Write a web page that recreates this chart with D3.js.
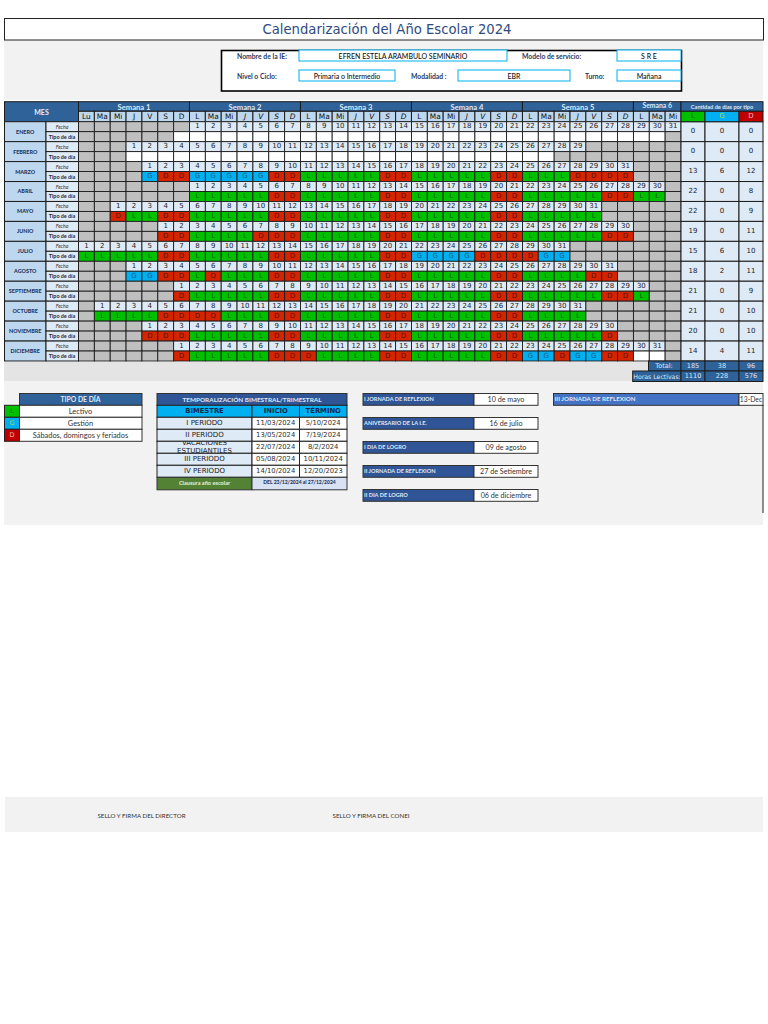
<!DOCTYPE html>
<html>
<head>
<meta charset="utf-8">
<script src="https://d3js.org/d3.v7.min.js"></script>
<style>
  body { margin: 0; background: #fff; }
  svg { display: block; }
  text { font-family: "DejaVu Sans", sans-serif; text-anchor: middle; dominant-baseline: central; }
  .nar { font-family: Lato, "Open Sans", sans-serif; }
</style>
</head>
<body>
<svg id="chart" width="768" height="1024"></svg>
<script>
// datos del calendario
var meses = ["ENERO", "FEBRERO", "MARZO", "ABRIL", "MAYO", "JUNIO", "JULIO", "AGOSTO", "SEPTIEMBRE", "OCTUBRE", "NOVIEMBRE", "DICIEMBRE"];
var semanas = ["Semana 1", "Semana 2", "Semana 3", "Semana 4", "Semana 5", "Semana 6"];
var diasSemana = ["Lu", "Ma", "Mi", "J", "V", "S", "D", "L", "Ma", "Mi", "J", "V", "S", "D", "L", "Ma", "Mi", "J", "V", "S", "D", "L", "Ma", "Mi", "J", "V", "S", "D", "L", "Ma", "Mi", "J", "V", "S", "D", "L", "Ma", "Mi"];
var numerosDia = [1, 2, 3, 4, 5, 6, 7, 8, 9, 10, 11, 12, 13, 14, 15, 16, 17, 18, 19, 20, 21, 22, 23, 24, 25, 26, 27, 28, 29, 30, 31];
var inicioMes = [7, 3, 4, 7, 2, 5, 0, 3, 6, 1, 4, 6];
var diasMes = [31, 29, 31, 30, 31, 30, 31, 31, 30, 31, 30, 31];
// . gris, w blanco, L lectivo, G gestion, D no lectivo
var tipoDia = [
  "......wwwwwwwwwwwwwwwwwwwwwwwwwwwwwww.",
  "...wwwwwwwwwwwwwwwwwwwwwwwwwww........",
  "....GDDGGGGGDDLLLLLDDLLLLLDDLLLDDDD...",
  ".......LLLLLDDLLLLLDDLLLLLDDLLLLLDDLL.",
  "..DLLDDLLLLLDDLLLLLDDLLLLLDDLLLLL.....",
  ".....DDLLLLDDDLLLLLDDLLLLLDDLLLLLDD...",
  "LLLLLDDLLLLLDDLLLLLDDGGGGDDDDGG.......",
  "...GGDDLDLLLDDLLLLLDDLLLLLDDLLLLDD....",
  "......DLLLLLDDLLLLLDDLLLLLDDLLLLLDDL..",
  ".LLLLDDDDLLLDDLLLLLDDLLLLLDDLLLL......",
  "....DDDLLLLLDDLLLLLDDLLLLLDDLLLLLD....",
  "......DLLLLLDDDLLLLDDLLLLLDDGGDGGDDww."
];
var cantidadL = [0, 0, 13, 22, 22, 19, 15, 18, 21, 21, 20, 14];
var cantidadG = [0, 0, 6, 0, 0, 0, 6, 2, 0, 0, 0, 4];
var cantidadD = [0, 0, 12, 8, 9, 11, 10, 11, 9, 10, 10, 11];
var totales = ["185", "38", "96"];
var horasLectivas = ["1110", "228", "576"];

var tiposLeyenda = ["L", "G", "D"];
var nombresLeyenda = ["Lectivo", "Gestión", "Sábados, domingos y feriados"];
var periodos = ["I PERIODO", "II PERIODO", "VACACIONES ESTUDIANTILES", "III PERIODO", "IV PERIODO"];
var inicios = ["11/03/2024", "13/05/2024", "22/07/2024", "05/08/2024", "14/10/2024"];
var terminos = ["5/10/2024", "7/19/2024", "8/2/2024", "10/11/2024", "12/20/2023"];
var eventos = ["I JORNADA DE REFLEXION", "ANIVERSARIO DE LA I.E.", "I  DIA DE LOGRO", "II JORNADA DE REFLEXION", "II DIA DE LOGRO"];
var fechasEventos = ["10 de mayo", "16 de julio", "09 de agosto", "27 de Setiembre", "06 de diciembre"];

var colores = { L: "#00c000", G: "#00b0f0", D: "#d42400", w: "#ffffff", ".": "#bfbfbf" };
var coloresTexto = { L: "#075f07", G: "#1c5f82", D: "#5c1207" };
var azul = "#2f6299", claro = "#deeaf6", medio = "#bdd7ee", borde = "#1c1c1c";

var svg = d3.select("#chart");

function caja(x, y, w, h, fill, stroke, sw) {
  return svg.append("rect").attr("x", x).attr("y", y).attr("width", w).attr("height", h)
    .attr("fill", fill).attr("stroke", stroke || "none").attr("stroke-width", sw || 0);
}
function texto(x, y, s, size, color, extra) {
  var t = svg.append("text").attr("x", x).attr("y", y).text(s)
    .attr("font-size", size).attr("fill", color);
  if (extra) {
    if (extra.cls) t.attr("class", extra.cls);
    if (extra.weight) t.attr("font-weight", extra.weight);
    if (extra.style) t.attr("font-style", extra.style);
    if (extra.anchor) t.style("text-anchor", extra.anchor);
  }
  return t;
}

// paneles de fondo
caja(4, 40, 759, 60, "#f2f2f2");
caja(4, 362, 759, 19, "#e4e4e4");
caja(4, 381, 759, 144, "#f2f2f2");
caja(5, 797, 758, 35, "#f2f2f2");

// titulo
caja(4.5, 18.5, 759, 21.5, "#fff", "#222", 1);
texto(387, 29.5, "Calendarización del Año Escolar 2024", 13.2, "#2f4a80");

// datos de la institucion
caja(221.5, 50.5, 460, 40.5, "#fff", "#000", 1.6);
function campo(x, y, w, s) {
  caja(x, y, w, 11, "#fff", "#00b0f0", 1);
  texto(x + w / 2, y + 5.7, s, 7, "#111", { cls: "nar", weight: 500 });
}
[["Nombre de la IE:", 237, 55.5], ["Nivel o Ciclo:", 237, 75.5], ["Modelo de servicio:", 522, 55.5], ["Modalidad :", 411, 75.5], ["Turno:", 585, 75.5]]
  .forEach(function (d) { texto(d[1], d[2], d[0], 6.8, "#1f3864", { cls: "nar", weight: 700, anchor: "start" }); });
campo(299, 50, 208, "EFREN ESTELA ARAMBULO SEMINARIO");
campo(617, 50, 64, "S R E");
campo(299, 70, 96, "Primaria o Intermedio");
campo(458, 70, 112, "EBR");
campo(617, 70, 64, "Mañana");

// escalas de la grilla
var x = d3.scaleBand().domain(d3.range(38)).range([78.5, 681]);
var y = d3.scaleBand().domain(meses).range([121.7, 361]);
var anchoTipo = { L: 24, G: 34, D: 24 };
var xCant = { L: 681, G: 705, D: 739 };
var w = x.bandwidth(), h = y.bandwidth() / 2;

// encabezados
caja(4.5, 101.7, 74, 20, azul, borde, 1);
texto(41.5, 111.5, "MES", 7, "#e8eef6", { cls: "nar", weight: 700 });
semanas.forEach(function (s, i) {
  var n = i == 5 ? 3 : 7;
  caja(x(i * 7), 101.7, n * w, 9.6, azul, borde, 1);
  texto(x(i * 7) + n * w / 2, i == 5 ? 105.3 : 106.5, s, i == 5 ? 6.8 : 7.6, "#dfe8f3", { cls: "nar", weight: 700 });
});
svg.selectAll(".dsem").data(diasSemana).enter().append("rect")
  .attr("x", function (d, i) { return x(i); }).attr("y", 111.3)
  .attr("width", w).attr("height", 10.4)
  .attr("fill", medio).attr("stroke", borde).attr("stroke-width", 1);
svg.selectAll(".dsemt").data(diasSemana).enter().append("text")
  .attr("x", function (d, i) { return x(i) + w / 2; }).attr("y", 116)
  .attr("font-size", 7.4).attr("fill", "#111")
  .attr("font-style", function (d, i) { return i >= 7 && i % 7 > 2 ? "italic" : "normal"; })
  .text(function (d) { return d; });

// filas de meses
meses.forEach(function (m, i) {
  var y0 = y(m);
  caja(4.5, y0, 41.5, 2 * h, medio, borde, 1);
  texto(25.2, y0 + h, m, 5.4, "#1f3864", { cls: "nar", weight: 900 });
  caja(46, y0, 32.5, h, claro, borde, 1);
  caja(46, y0 + h, 32.5, h, claro, borde, 1);
  texto(62, y0 + h / 2, "Fecha", 5.2, "#333", { cls: "nar", style: "italic" });
  texto(62, y0 + 1.5 * h, "Tipo de día", 5.4, "#1a2a44", { cls: "nar", weight: 700 });

  var fechas = numerosDia.slice(0, diasMes[i]);
  var g = svg.append("g");
  // fila de fecha
  g.selectAll(".gris").data(d3.range(38)).enter().append("rect")
    .attr("x", function (c) { return x(c); }).attr("y", y0)
    .attr("width", w).attr("height", h)
    .attr("fill", function (c) { return c >= inicioMes[i] && c < inicioMes[i] + diasMes[i] ? claro : colores["."]; })
    .attr("stroke", borde).attr("stroke-width", 0.9);
  g.selectAll(".num").data(fechas).enter().append("text")
    .attr("x", function (d) { return x(inicioMes[i] + d - 1) + w / 2; }).attr("y", y0 + h / 2 - 0.4)
    .attr("font-size", 7).attr("fill", "#222").text(function (d) { return d; });
  // fila de tipo
  var tipos = tipoDia[i].split("");
  g.selectAll(".tipo").data(tipos).enter().append("rect")
    .attr("x", function (d, c) { return x(c); }).attr("y", y0 + h)
    .attr("width", w).attr("height", h)
    .attr("fill", function (d) { return colores[d]; })
    .attr("stroke", borde).attr("stroke-width", 0.9);
  g.selectAll(".letra").data(tipos).enter().append("text")
    .attr("x", function (d, c) { return x(c) + w / 2; }).attr("y", y0 + 1.5 * h - 0.4)
    .attr("font-size", 7).attr("fill", function (d) { return coloresTexto[d] || "none"; })
    .text(function (d) { return coloresTexto[d] ? d : ""; });

  // cantidades
  [["L", cantidadL[i]], ["G", cantidadG[i]], ["D", cantidadD[i]]].forEach(function (d) {
    caja(xCant[d[0]], y0, anchoTipo[d[0]], 2 * h, claro, borde, 1);
    texto(xCant[d[0]] + anchoTipo[d[0]] / 2, y0 + h - 0.3, d[1], 7, "#222");
  });
});

// encabezado de cantidades
caja(681, 101.7, 82, 9.6, azul, borde, 1);
texto(722, 106.5, "Cantidad de días por tipo", 5.6, "#dfe8f3", { cls: "nar", weight: 700 });
var colorCab = { L: "#00c000", G: "#00b0f0", D: "#c00000" };
var textoCab = { L: "#075f07", G: "#a5d64a", D: "#f2b8b8" };
tiposLeyenda.forEach(function (t) {
  caja(xCant[t], 111.3, anchoTipo[t], 10.4, colorCab[t], borde, 1);
  texto(xCant[t] + anchoTipo[t] / 2, 116, t, 7, textoCab[t]);
});

// totales
caja(648.5, 361, 32.5, 10, azul, borde, 1);
texto(664, 365.8, "Total:", 6.5, "#dfe8f3");
caja(632.7, 371, 48.3, 10.5, azul, borde, 1);
texto(657, 376, "Horas Lectivas:", 6.2, "#dfe8f3");
tiposLeyenda.forEach(function (t, i) {
  caja(xCant[t], 361, anchoTipo[t], 10, azul, borde, 1);
  texto(xCant[t] + anchoTipo[t] / 2, 365.8, totales[i], 6.5, "#dfe8f3");
  caja(xCant[t], 371, anchoTipo[t], 10.5, azul, borde, 1);
  texto(xCant[t] + anchoTipo[t] / 2, 376, horasLectivas[i], 6.5, "#dfe8f3");
});

// leyenda tipo de dia
caja(19.5, 393.5, 122.5, 11.8, azul, "#333", 1);
texto(80.5, 399, "TIPO DE DÍA", 6.8, "#dfe8f3", { cls: "nar", weight: 700 });
tiposLeyenda.forEach(function (t, i) {
  var yl = 405.3 + i * 12;
  caja(4.5, yl, 15, 12, colorCab[t], "#222", 1);
  texto(12, yl + 5.6, t, 6.5, textoCab[t]);
  caja(19.5, yl, 122.5, 12, "#fff", "#333", 1);
  texto(80.5, yl + 6, nombresLeyenda[i], 7.4, "#333", { cls: "nar" });
});

// temporalizacion
var col = d3.scaleOrdinal().domain(["p", "i", "t"]).range([157, 252, 299.5]);
var anchoCol = { p: 95, i: 47.5, t: 47.5 };
caja(157, 393.5, 190, 11.8, "#2f5597", "#333", 1);
texto(252, 399, "TEMPORALIZACIÓN BIMESTRAL/TRIMESTRAL", 6.4, "#dfe8f3", { cls: "nar", weight: 700 });
[["p", "BIMESTRE"], ["i", "INICIO"], ["t", "TÉRMINO"]].forEach(function (d) {
  caja(col(d[0]), 405.3, anchoCol[d[0]], 12, "#00b0f0", "#222", 1);
  texto(col(d[0]) + anchoCol[d[0]] / 2, 410.8, d[1], 6.8, "#10284f", { weight: 700 });
});
svg.append("clipPath").attr("id", "clipVac").append("rect").attr("x", 157).attr("y", 441.3).attr("width", 95).attr("height", 12);
periodos.forEach(function (p, i) {
  var yr = 417.3 + i * 12;
  caja(col("p"), yr, 95, 12, claro, "#222", 1);
  caja(col("i"), yr, 47.5, 12, "#fff", "#222", 1);
  caja(col("t"), yr, 47.5, 12, "#fff", "#222", 1);
  if (p.indexOf("PERIODO") < 0) {
    var g = svg.append("g").attr("clip-path", "url(#clipVac)");
    p.split(" ").forEach(function (s, k) {
      g.append("text").attr("x", 204.5).attr("y", yr + 1.2 + k * 8.8).attr("font-size", 7).attr("fill", "#222").text(s);
    });
  } else {
    texto(204.5, yr + 5.7, p, 7, "#222");
  }
  texto(275.7, yr + 5.4, inicios[i], 6.8, "#333");
  texto(323.2, yr + 5.4, terminos[i], 6.8, "#333");
});
caja(157, 477.3, 95, 12.5, "#548235", "#333", 1);
texto(204.5, 482.3, "Clausura año escolar", 5.6, "#e6f0da", { cls: "nar", weight: 700 });
caja(252, 477.3, 95, 12.5, "#d9e2f3", "#333", 1);
texto(299.5, 482.3, "DEL 23/12/2024 al 27/12/2024", 5, "#1f3864", { cls: "nar", weight: 900 });

// fechas importantes
eventos.forEach(function (e, i) {
  var ye = 393.5 + i * 24;
  caja(363, ye, 111, 11.8, "#2f5597", "#333", 1);
  texto(364, ye + 5.2, e, 5.6, "#dfe8f3", { cls: "nar", weight: 700, anchor: "start" });
  caja(474, ye, 64, 11.8, "#fff", "#333", 1);
  texto(506, ye + 5.5, fechasEventos[i], 7.2, "#333", { cls: "nar" });
});
caja(553.5, 393.5, 185.5, 11.8, "#4472c4", "#333", 1);
texto(554.5, 398.7, "III JORNADA DE REFLEXION", 6.2, "#dfe8f3", { cls: "nar", weight: 700, anchor: "start" });
caja(739, 393.5, 24, 11.8, "#fff", "#333", 1);
texto(751, 398.7, "13-Dec", 6.8, "#333", { cls: "nar" });
svg.append("line").attr("x1", 763).attr("x2", 763).attr("y1", 405).attr("y2", 513).attr("stroke", "#222").attr("stroke-width", 1);

// firmas
texto(141.5, 815.5, "SELLO Y FIRMA DEL DIRECTOR", 6.2, "#333", { cls: "nar" });
texto(371, 815.5, "SELLO Y FIRMA DEL CONEI", 6.2, "#333", { cls: "nar" });
</script>
</body>
</html>
